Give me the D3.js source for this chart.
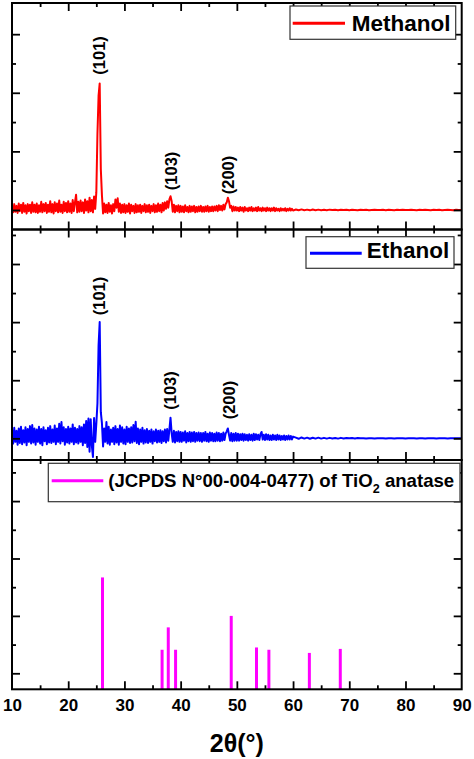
<!DOCTYPE html>
<html><head><meta charset="utf-8">
<script src="https://cdn.jsdelivr.net/npm/d3@7/dist/d3.min.js"></script>
<style>
body{margin:0;background:#fff}
svg{display:block}
text{font-family:Arial,"Liberation Sans",sans-serif;font-weight:bold;fill:#000}
</style>
</head><body>
<svg id="chart" width="474" height="759"></svg>
<script>
// ---------------- DATA ----------------
// Sampling: fine region 10.0–60.0° every 0.2°, coarse region 60.5–90.0° every 0.5°
const fineStart = 10, fineStep = 0.2;
const coarseStart = 60.5, coarseStep = 0.5;

const methanolFine = [
  80, -40, 100, -30, 70, -50, 110, -20, 90, -50,        // 10.0
  120, -30, 80, -60, 100, -20, 90, -50, 130, -30,       // 12.0
  90, -40, 110, -50, 80, -30, 140, -40, 100, -20,       // 14.0
  120, -50, 90, -30, 150, -40, 100, -60, 130, -20,      // 16.0
  110, -40, 160, -30, 90, -50, 140, -20, 120, -40,      // 18.0
  150, -30, 110, -50, 170, -20, 130, 260, -40, 140,     // 20.0
  -30, 160, -20, 130, -50, 180, -10, 150, -40, 210,     // 22.0
  -20, 170, -40, 230, 20, 300, 1300, 1950, 2160, 700,   // 24.0
  250, -60, 110, -40, 90, -50, 120, -30, 80, -60,       // 26.0
  100, -20, 180, 40, 200, -30, 110, -50, 90, -40,       // 28.0
  100, -50, 80, -30, 110, -60, 90, -20, 70, -50,        // 30.0
  100, -40, 80, -30, 90, -50, 70, -20, 100, -40,        // 32.0
  80, -30, 90, -50, 70, -20, 100, -40, 80, -30,         // 34.0
  110, -20, 90, -40, 120, -10, 130, 20, 150, 40,        // 36.0
  180, 235, 150, -30, 90, -40, 70, -20, 80, -40,        // 38.0
  70, -30, 60, -40, 80, -20, 50, -40, 70, -30,          // 40.0
  60, -20, 70, -40, 50, -30, 60, -20, 70, -30,          // 42.0
  50, -30, 60, -20, 70, -30, 50, -20, 60, -20,          // 44.0
  60, -10, 70, -20, 80, 0, 70, -10, 90, 10,             // 46.0
  100, 130, 210, 150, 40, 70, -20, 60, -10, 50,         // 48.0
  -10, 40, -20, 50, -10, 40, -30, 50, -10, 30,          // 50.0
  -20, 40, -10, 50, -20, 30, -10, 40, -20, 50,          // 52.0
  -10, 30, -20, 40, -10, 30, -20, 40, -10, 30,          // 54.0
  -20, 30, -10, 40, -20, 30, -10, 20, -20, 30,          // 56.0
  -10, 20, -10, 30, -20, 20, -10, 30, -10, 20,          // 58.0
  -10                                                   // 60.0
];
const methanolCoarse = [
  8, -5, 10, -3, 6, -6, 8, -3, 6, -3,                   // 60.5
  5, -3, 6, 0, 4, -4, 5, 0, 4, -3,                      // 65.5
  3, 0, -3, 4, 0, 3, -3, 0, 4, 0,                       // 70.5
  0, 3, -3, 3, 0, -3, 3, 0, 3, 0,                       // 75.5
  0, 3, 0, -3, 3, 0, 3, 0, -3, 3,                       // 80.5
  0, 3, -3, 0, 3, 0, -3, 3, 0, 0                        // 85.5
];

const ethanolFine = [
  150, -90, 180, -60, 130, -110, 170, -80, 200, -100,   // 10.0
  140, -70, 190, -120, 160, -60, 210, -90, 230, -70,    // 12.0
  170, -110, 150, -60, 200, -90, 160, -120, 190, -50,   // 14.0
  140, -100, 180, -70, 210, -80, 150, -60, 220, -100,   // 16.0
  170, -60, 250, -90, 280, -50, 190, -110, 160, -70,    // 18.0
  200, -90, 170, -60, 240, -100, 180, -70, 160, -90,    // 20.0
  210, -60, 190, -120, 240, -80, 300, -150, 340, -230,  // 22.0
  330, -120, -320, 350, -60, 250, 600, 1600, 2000, 450, // 24.0
  260, -140, 170, -60, 280, -90, 200, -110, 150, -60,   // 26.0
  180, -100, 210, -70, 160, -110, 220, -60, 190, -90,   // 28.0
  150, -100, 200, -60, 170, -80, 190, -70, 230, -50,    // 30.0
  285, -80, 170, -100, 150, -60, 180, -90, 140, -70,    // 32.0
  160, -80, 130, -60, 150, -90, 120, -50, 150, -70,     // 34.0
  130, -60, 140, -80, 120, -50, 150, -70, 160, -40,     // 36.0
  150, 355, 90, -60, 130, -70, 110, -50, 120, -60,      // 38.0
  110, -60, 100, -40, 120, -70, 90, -50, 110, -60,      // 40.0
  100, -50, 110, -60, 90, -40, 100, -50, 90, -60,       // 42.0
  90, -40, 110, -50, 80, -60, 100, -40, 90, -50,        // 44.0
  80, -50, 100, -40, 90, -50, 80, -40, 100, -30,        // 46.0
  80, 120, 170, 60, -40, 90, -50, 80, -40, 90,          // 48.0
  -40, 80, -40, 70, -30, 80, -40, 70, -30, 60,          // 50.0
  -40, 70, -30, 60, -40, 80, -30, 70, -20, 60,          // 52.0
  -30, 70, 110, -20, 60, -30, 70, -20, 60, -30,         // 54.0
  50, -30, 60, -20, 50, -30, 60, -20, 50, -30,          // 56.0
  40, -20, 50, -30, 40, -20, 50, -20, 40, -20,          // 58.0
  30                                                    // 60.0
];
const ethanolCoarse = [
  12, -8, 15, -5, 12, -8, 10, -5, 12, -5,               // 60.5
  8, -5, 8, -3, 6, -5, 8, -3, 5, 0,                     // 65.5
  4, -3, 5, 0, 3, -4, 3, 0, -3, 3,                      // 70.5
  0, 3, -3, 3, 0, -3, 3, 0, 3, -3,                      // 75.5
  0, 3, 0, -3, 3, 0, -3, 3, 0, 3,                       // 80.5
  -3, 0, 3, 0, -3, 3, 0, 0, 3, 0                        // 85.5
];

// JCPDS 00-004-0477 reference lines (as drawn)
const refAngles    = [26.1, 36.7, 37.8, 39.1, 49.0, 53.5, 55.7, 62.9, 68.4];
const refIntensity = [1670, 410, 800, 410, 1000, 450, 410, 355, 425];

// Peak annotations
const methanolPeakLabels = ["(101)", "(103)", "(200)"];
const methanolPeakAngles = [25.5, 38.3, 48.4];
const methanolPeakLabelY = [2637, 666, 597];   // label centre, intensity units
const ethanolPeakLabels  = ["(101)", "(103)", "(200)"];
const ethanolPeakAngles  = [25.5, 38.1, 48.6];
const ethanolPeakLabelY  = [2449, 823, 659];

const xTickMajor = [10, 20, 30, 40, 50, 60, 70, 80, 90];
const xTickMinor = [15, 25, 35, 45, 55, 65, 75, 85];
const yTickMajor = [0, 1000, 2000, 3000];
const yTickMinor = [500, 1500, 2500, 3500];

const legendNames = ["Methanol", "Ethanol", "(JCPDS N°00-004-0477) of TiO"];
const seriesColors = ["#ff0000", "#0000ff", "#ff00ff"];
const xTitle = "2θ(°)";

// ---------------- LAYOUT ----------------
const svg = d3.select("#chart");
const left = 12, right = 461.7;
const panels = [
  {top: 3,     bottom: 229.5, domain: [-333, 3532]},
  {top: 229.5, bottom: 460,   domain: [-373, 3594]},
  {top: 460,   bottom: 689.3, domain: [-279, 3716]}
];
const x = d3.scaleLinear().domain([10, 90]).range([left, right]);
panels.forEach(p => { p.y = d3.scaleLinear().domain(p.domain).range([p.bottom, p.top]); });

function buildSeries(fine, coarse) {
  const a = fine.map((v, i) => ({t: fineStart + i * fineStep, v}));
  const b = coarse.map((v, i) => ({t: coarseStart + i * coarseStep, v}));
  return a.concat(b);
}
const methanol = buildSeries(methanolFine, methanolCoarse);
const ethanol = buildSeries(ethanolFine, ethanolCoarse);

// clip paths
const defs = svg.append("defs");
panels.forEach((p, i) => {
  defs.append("clipPath").attr("id", "clip" + i)
    .append("rect").attr("x", left).attr("y", p.top)
    .attr("width", right - left).attr("height", p.bottom - p.top);
});

// ---------- data ----------
function drawLine(data, p, idx, color) {
  const line = d3.line().x(d => x(d.t)).y(d => p.y(d.v));
  svg.append("path").datum(data)
    .attr("clip-path", `url(#clip${idx})`)
    .attr("fill", "none").attr("stroke", color)
    .attr("stroke-width", 2).attr("stroke-linejoin", "round")
    .attr("d", line);
}
drawLine(methanol, panels[0], 0, seriesColors[0]);
drawLine(ethanol, panels[1], 1, seriesColors[1]);

svg.append("g").selectAll("line").data(refAngles).join("line")
  .attr("x1", d => x(d)).attr("x2", d => x(d))
  .attr("y1", panels[2].y(panels[2].domain[0]))
  .attr("y2", (d, i) => panels[2].y(refIntensity[i]))
  .attr("stroke", seriesColors[2]).attr("stroke-width", 3);

// ---------- axes / ticks ----------
function ticks(p) {
  const g = svg.append("g");
  const inRange = v => v > p.domain[0] && v < p.domain[1] - 40;
  const add = (axisFn, scale, vals, size, transform) => {
    const a = g.append("g").attr("transform", transform)
      .call(axisFn(scale).tickValues(vals).tickSize(-size).tickFormat(""));
    a.select(".domain").remove();
    a.selectAll("line").attr("stroke", "#000").attr("stroke-width", 1.8);
  };
  add(d3.axisLeft, p.y, yTickMajor.filter(inRange), 8, `translate(${left},0)`);
  add(d3.axisLeft, p.y, yTickMinor.filter(inRange), 4, `translate(${left},0)`);
  add(d3.axisRight, p.y, yTickMajor.filter(inRange), 8, `translate(${right},0)`);
  add(d3.axisRight, p.y, yTickMinor.filter(inRange), 4, `translate(${right},0)`);
  add(d3.axisBottom, x, xTickMajor.slice(1, -1), 8, `translate(0,${p.bottom})`);
  add(d3.axisBottom, x, xTickMinor, 4, `translate(0,${p.bottom})`);
  add(d3.axisTop, x, xTickMajor.slice(1, -1), 8, `translate(0,${p.top})`);
  add(d3.axisTop, x, xTickMinor, 4, `translate(0,${p.top})`);
}
panels.forEach(ticks);

// frames
panels.forEach(p => {
  svg.append("rect").attr("x", left).attr("y", p.top)
    .attr("width", right - left).attr("height", p.bottom - p.top)
    .attr("fill", "none").attr("stroke", "#000").attr("stroke-width", 2);
});

// x tick labels on bottom panel
const xl = svg.append("g").attr("transform", `translate(0,${panels[2].bottom})`)
  .call(d3.axisBottom(x).tickValues(xTickMajor).tickSize(0).tickPadding(10).tickFormat(d3.format("d")));
xl.select(".domain").remove();
xl.selectAll("text").attr("font-size", 17).attr("font-family", "Arial, 'Liberation Sans', sans-serif")
  .attr("font-weight", "bold").attr("fill", "#000");

// axis title
svg.append("text").attr("x", (left + right) / 2).attr("y", 752)
  .attr("text-anchor", "middle").attr("font-size", 25).text(xTitle);

// ---------- peak labels ----------
function peakLabels(labels, angles, ys, p) {
  labels.forEach((lab, i) => {
    const cx = x(angles[i]), cy = p.y(ys[i]);
    svg.append("text")
      .attr("transform", `translate(${cx},${cy}) rotate(-90)`)
      .attr("text-anchor", "middle").attr("dominant-baseline", "central")
      .attr("font-size", 16.5).text(lab);
  });
}
peakLabels(methanolPeakLabels, methanolPeakAngles, methanolPeakLabelY, panels[0]);
peakLabels(ethanolPeakLabels, ethanolPeakAngles, ethanolPeakLabelY, panels[1]);

// ---------- legends ----------
function legend(bx, by, bw, bh, lx1, lx2, ly, tx, ty, fs, color, name, sub, tail) {
  svg.append("rect").attr("x", bx).attr("y", by).attr("width", bw).attr("height", bh)
    .attr("fill", "#fff").attr("stroke", "#333").attr("stroke-width", 1.2);
  svg.append("line").attr("x1", lx1).attr("x2", lx2).attr("y1", ly).attr("y2", ly)
    .attr("stroke", color).attr("stroke-width", 3);
  const t = svg.append("text").attr("x", tx).attr("y", ty).attr("font-size", fs);
  t.append("tspan").text(name);
  if (sub) {
    t.append("tspan").attr("font-size", fs * 0.68).attr("dy", fs * 0.28).text(sub);
    t.append("tspan").attr("dy", -fs * 0.28).text(tail);
  }
}
legend(290, 6, 165.7, 33.3, 292.7, 345, 23.3, 351.7, 30.7, 22.5, seriesColors[0], legendNames[0]);
legend(306, 236.7, 148, 31.6, 310, 361.7, 253.3, 366.7, 258.3, 22.5, seriesColors[1], legendNames[1]);
legend(48.3, 463.3, 411.7, 38.4, 51.7, 103.3, 480.7, 108.3, 487.3, 18.6, seriesColors[2], legendNames[2], "2", " anatase");
</script>
</body></html>
